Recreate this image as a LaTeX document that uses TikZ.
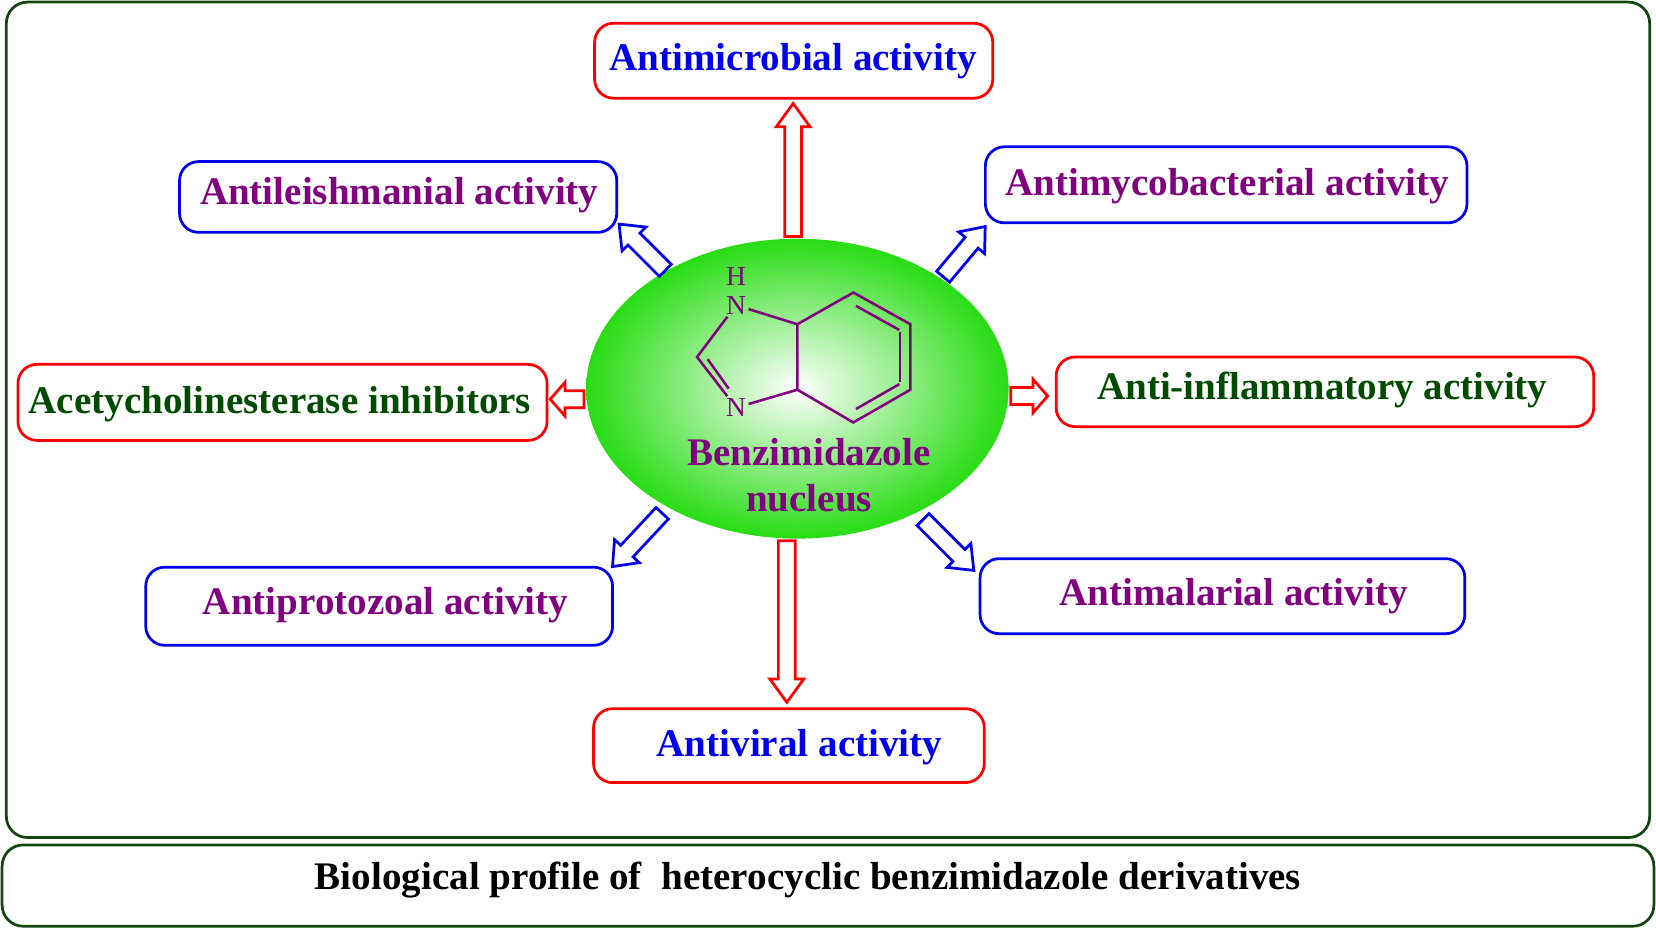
\documentclass[tikz,border=0pt]{standalone}
\usepackage{fontspec}
\usetikzlibrary{calc}
\setmainfont{Liberation Serif}
\definecolor{dgreen}{RGB}{20,70,20}
\definecolor{tgreen}{RGB}{0,75,0}
\definecolor{purp}{RGB}{128,0,128}
\definecolor{bblue}{RGB}{0,0,235}
\definecolor{rred}{RGB}{255,0,0}
\definecolor{lime}{RGB}{40,220,20}
\tikzset{
  box/.style={draw, rounded corners=9pt, line width=1.3pt, inner sep=0pt},
  lab/.style={font=\bfseries\fontsize{18.5}{22}\selectfont},
  frame/.style={draw=dgreen, rounded corners=10pt, line width=1.3pt},
  bond/.style={draw=purp, line width=1.2pt},
  atom/.style={text=purp, font=\fontsize{13}{13}\selectfont, inner sep=1pt}
}
\newcommand{\barrow}[5]{%
  \begin{scope}[shift={(#1)}, rotate=#2]
    \draw[#4, line width=1.3pt, fill=white] (0,-8)--(#3-#5,-8)--(#3-#5,-16)--(#3,0)--(#3-#5,16)--(#3-#5,8)--(0,8)--cycle;
  \end{scope}}
\begin{document}
\begin{tikzpicture}[x=0.5pt,y=-0.5pt]
\useasboundingbox (0,0) rectangle (1568,879);
\draw[frame] (6,2) rectangle (1562,793);
\draw[frame] (2,800) rectangle (1566,877);
\node[lab] (cap) at (765,833) {Biological profile of \ heterocyclic benzimidazole derivatives};
% ellipse
\shade[inner color=white, outer color=lime, shading=radial] (755,368) ellipse [x radius=200, y radius=142];
% boxes
\draw[box, draw=rred] (563,22) rectangle (940,93);
\node[lab, text=bblue] (b1) at (751,58) {Antimicrobial activity};
\draw[box, draw=bblue] (170,153) rectangle (584,220);
\node[lab, text=purp] (b2) at (378,185) {Antileishmanial activity};
\draw[box, draw=bblue] (933,139) rectangle (1389,211);
\node[lab, text=purp] (b3) at (1162,176) {Antimycobacterial activity};
\draw[box, draw=rred] (17,345) rectangle (518,417);
\node[lab, text=tgreen] (b4) at (265,383) {Acetycholinesterase inhibitors};
\draw[box, draw=rred] (1000,338) rectangle (1509,404);
\node[lab, text=tgreen] (b5) at (1252,369) {Anti-inflammatory activity};
\draw[box, draw=bblue] (138,537) rectangle (580,611);
\node[lab, text=purp] (b6) at (365,573) {Antiprotozoal activity};
\draw[box, draw=bblue] (928,529) rectangle (1387,600);
\node[lab, text=purp] (b7) at (1168,564) {Antimalarial activity};
\draw[box, draw=rred] (562,671) rectangle (932,741);
\node[lab, text=bblue] (b8) at (757,707) {Antiviral activity};
% arrows
\barrow{751,224}{90}{126}{rred}{22}
\barrow{745,512}{-90}{153}{rred}{22}
\barrow{553,378}{180}{32}{rred}{14}
\barrow{957,375}{0}{35}{rred}{14}
\barrow{630,256}{135}{62}{bblue}{20}
\barrow{893,262}{50}{62}{bblue}{20}
\barrow{627,486}{-133}{69}{bblue}{20}
\barrow{874,492}{-45}{68}{bblue}{20}
% benzimidazole
\node[atom] (N1) at (697,289) {N};
\node[atom] (H1) at (697,262) {H};
\node[atom] (N3) at (697,386) {N};
\coordinate (a1) at (808,277); \coordinate (a2) at (862,307); \coordinate (a3) at (862,369);
\coordinate (a4) at (808,400); \coordinate (a5) at (755,369); \coordinate (a6) at (755,307);
\coordinate (C2) at (660,338);
\draw[bond] (a1)--(a2)--(a3)--(a4)--(a5)--(a6)--cycle;
\draw[bond] ($(a1)!0.12!(a2)+(-4,9)$) -- ($(a1)!0.88!(a2)+(-4,9)$);
\draw[bond] (852,314)--(852,362);
\draw[bond] ($(a3)!0.12!(a4)+(-4,-9)$) -- ($(a3)!0.88!(a4)+(-4,-9)$);
\draw[bond] (N1)--(a6);
\draw[bond] (N3)--(a5);
\draw[bond] (N1)--(C2)--(N3);
\draw[bond] (670,340)--(690,368);
\node[lab, text=purp, align=center] (lbl) at (766,450) {Benzimidazole\\nucleus};
\end{tikzpicture}
\end{document}
